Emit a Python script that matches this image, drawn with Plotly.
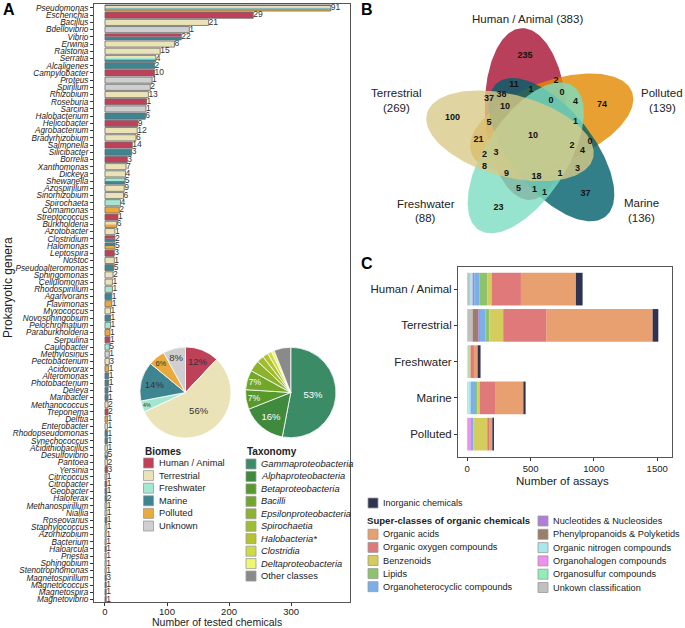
import numpy as np
import plotly.graph_objects as go

W, H = 685, 628
FONT = "Liberation Sans, Arial, sans-serif"
TXT = "#222222"

# ---------------- Panel A data ----------------
genera = ["Pseudomonas", "Escherichia", "Bacillus", "Bdellovibrio", "Vibrio", "Erwinia", "Ralstonia",
          "Serratia", "Alcaligenes", "Campylobacter", "Proteus", "Spirillum", "Rhizobium", "Roseburia",
          "Sarcina", "Halobacterium", "Helicobacter", "Agrobacterium", "Bradyrhizobium", "Salmonella",
          "Silicibacter", "Borrelia", "Xanthomonas", "Dickeya", "Shewanella", "Azospirillum",
          "Sinorhizobium", "Spirochaeta", "Comamonas", "Streptococcus", "Burkholderia", "Azotobacter",
          "Clostridium", "Halomonas", "Leptospira", "Nostoc", "Pseudoalteromonas", "Sphingomonas",
          "Cellulomonas", "Rhodospirillum", "Agarivorans", "Flavimonas", "Myxococcus", "Novosphingobium",
          "Pelochromatium", "Paraburkholderia", "Serpulina", "Caulobacter", "Methylosinus",
          "Pectobacterium", "Acidovorax", "Alteromonas", "Photobacterium", "Deleya", "Maribacter",
          "Methanococcus", "Treponema", "Delftia", "Enterobacter", "Rhodopseudomonas", "Synechococcus",
          "Acidithiobacillus", "Desulfovibrio", "Pantoea", "Yersinia", "Citricoccus", "Citrobacter",
          "Geobacter", "Haloferax", "Methanospirillum", "Niallia", "Roseovarius", "Staphylococcus",
          "Azorhizobium", "Bacterium", "Haloarcula", "Priestia", "Sphingobium", "Stenotrophomonas",
          "Magnetospirillum", "Magnetococcus", "Magnetospira", "Magnetovibrio"]
tested_chemicals = [364, 239, 167, 136, 123, 112, 89, 82, 80, 80, 76, 73, 70, 67, 66, 65, 53, 52, 50, 44,
                    43, 36, 34, 33, 32, 31, 30, 25, 23, 21, 19, 16, 16, 16, 15, 15, 14, 13, 12, 12, 11, 11,
                    9, 9, 9, 8, 8, 7, 7, 7, 6, 6, 6, 5, 5, 5, 5, 4, 4, 4, 4, 4, 4, 4, 4, 3, 3, 3, 3, 3, 3,
                    3, 3, 2, 2, 2, 2, 2, 2, 2, 2, 2, 2]
bar_numbers = [91, 29, 21, 1, 22, 8, 15, 4, 2, 10, 1, 2, 13, 1, 1, 6, 9, 12, 6, 14, 3, 3, 7, 4, 5, 9, 6,
               4, 2, 1, 6, 1, 2, 5, 3, 1, 5, 2, 1, 1, 1, 1, 1, 1, 1, 1, 1, 5, 1, 3, 1, 1, 1, 1, 1, 2, 2,
               1, 1, 1, 1, 1, 5, 2, 3, 1, 1, 1, 2, 1, 1, 1, 1, 1, 1, 1, 1, 1, 1, 3, 1, 1, 1]
# biome codes: H human/animal, T terrestrial, F freshwater, M marine, P polluted, U unknown
genus_biomes = ["HTFMP", "H", "T", "U", "HM", "T", "T", "TFM", "M", "H", "U", "U", "T", "H", "U", "M",
                "H", "T", "T", "H", "M", "H", "T", "T", "FM", "T", "T", "F", "P", "H", "TP", "T", "HM",
                "MP", "H", "T", "M", "T", "T", "F", "M", "P", "T", "M", "F", "P", "H", "F", "U", "T", "P",
                "M", "M", "M", "M", "T", "H", "P", "T", "M", "M", "T", "FM", "T", "H", "U", "H", "M", "M",
                "U", "T", "M", "T", "T", "U", "M", "T", "T", "T", "M", "M", "M", "M"]

biome_codes = ["H", "T", "F", "M", "P", "U"]
biome_names = ["Human / Animal", "Terrestrial", "Freshwater", "Marine", "Polluted", "Unknown"]
biome_colors = ["#BE4059", "#EAE3B8", "#A4E7D1", "#3F8591", "#E9A93C", "#CFCFCF"]
biome_pct = [12, 56, 4, 14, 6, 8]

taxa = ["Gammaproteobacteria", "Alphaproteobacteria", "Betaproteobacteria", "Bacilli",
        "Epsilonproteobacteria", "Spirochaetia", "Halobacteria*", "Clostridia", "Deltaproteobacteria",
        "Other classes"]
taxa_pct = [53, 16, 7, 7, 4, 2.5, 2, 1.5, 1, 6]
taxa_colors = ["#3B8C66", "#3F8A3D", "#58992B", "#72A82A", "#8DB32E", "#9EBD30", "#B5C330", "#CCDB47",
               "#EEF76B", "#8A8A8A"]
taxa_italic = [True] * 9 + [False]

# ---------------- Panel B data ----------------
venn_sets = ["Human / Animal", "Polluted", "Marine", "Freshwater", "Terrestrial"]
venn_totals = [383, 139, 136, 88, 269]
venn_colors = ["rgba(166,16,49,0.8)", "rgba(227,136,0,0.8)", "rgba(0,95,108,0.8)",
               "rgba(124,221,192,0.8)", "rgba(216,202,136,0.8)"]
venn_counts = [235, 11, 1, 2, 0, 37, 36, 10, 0, 4, 74, 100, 5, 1, 10, 21, 2, 0, 4, 2, 3, 8, 9, 18, 1, 3,
               5, 1, 1, 37, 23]

# ---------------- Panel C data ----------------
assay_biomes = ["Human / Animal", "Terrestrial", "Freshwater", "Marine", "Polluted"]
superclasses = ["Unkown classification", "Organosulfur compounds", "Organohalogen compounds",
                "Organic nitrogen compounds", "Phenylpropanoids & Polyketids", "Nucleotides & Nucleosides",
                "Organoheterocyclic compounds", "Lipids", "Benzenoids", "Organic oxygen compounds",
                "Organic acids", "Inorganic chemicals"]
assays_unknown = [21, 42, 0, 0, 0]
assays_organosulfur = [0, 0, 4, 10, 0]
assays_organohalogen = [0, 0, 0, 0, 29]
assays_org_nitrogen = [21, 0, 6, 16, 0]
assays_phenylpropanoids = [0, 45, 0, 0, 0]
assays_nucleotides = [13, 13, 0, 0, 0]
assays_organoheterocyclic = [40, 45, 0, 35, 18]
assays_lipids = [65, 29, 6, 18, 0]
assays_benzenoids = [32, 110, 10, 21, 111]
assays_org_oxygen = [232, 343, 27, 119, 14]
assays_org_acids = [434, 837, 29, 224, 26]
assays_inorganic = [53, 45, 23, 18, 13]
superclass_colors = ["#C0C0C0", "#93EDBB", "#EE90EE", "#A9E8EA", "#9A7D6B", "#B07ED9", "#7BAFE9",
                     "#8DC46B", "#D5CC5E", "#E07A7A", "#E8A070", "#2F3352"]


def PX(x):
    return x / W


def PY(y):
    return 1 - y / H


fig = go.Figure()

# ---------------- Panel A: bars ----------------
bar_w = 0.85
stripes = {c: {"x": [], "y": [], "w": []} for c in biome_codes}
for i, (v, bs) in enumerate(zip(tested_chemicals, genus_biomes)):
    k = len(bs)
    for j, c in enumerate(bs):
        stripes[c]["x"].append(v)
        stripes[c]["y"].append(i - bar_w / 2 + (j + 0.5) * bar_w / k)
        stripes[c]["w"].append(bar_w / k)
for c, col in zip(biome_codes, biome_colors):
    s = stripes[c]
    fig.add_trace(go.Bar(orientation="h", x=s["x"], y=s["y"], width=s["w"], marker=dict(color=col, line=dict(width=0)),
                         xaxis="x", yaxis="y", showlegend=False, hoverinfo="skip"))
idx = list(range(len(genera)))
fig.add_trace(go.Bar(orientation="h", x=tested_chemicals, y=idx, width=bar_w,
                     marker=dict(color="rgba(0,0,0,0)", line=dict(color="#6a6a6a", width=0.8)),
                     xaxis="x", yaxis="y", showlegend=False, hoverinfo="skip"))
fig.add_trace(go.Scatter(x=tested_chemicals, y=idx, mode="text", text=[str(n) for n in bar_numbers],
                         textposition="middle right", textfont=dict(size=8.5, color="#333", family=FONT),
                         xaxis="x", yaxis="y", showlegend=False, hoverinfo="skip", cliponaxis=False))

# ---------------- Pies ----------------
fig.add_trace(go.Pie(values=biome_pct, labels=biome_names, sort=False, direction="clockwise",
                     marker=dict(colors=biome_colors, line=dict(color="white", width=0.8)),
                     text=[f"{p}%" for p in biome_pct], textinfo="text", textposition="inside",
                     insidetextorientation="horizontal",
                     textfont=dict(size=9.5, color="#333", family=FONT),
                     domain=dict(x=[PX(140), PX(231)], y=[PY(438), PY(347)]), showlegend=False,
                     hoverinfo="skip"))
fig.add_trace(go.Pie(values=taxa_pct, labels=taxa, sort=False, direction="clockwise",
                     marker=dict(colors=taxa_colors, line=dict(color="white", width=0.8)),
                     text=[f"{p:g}%" if p >= 7 else "" for p in taxa_pct], textinfo="text",
                     textposition="inside", insidetextorientation="horizontal",
                     textfont=dict(size=9.5, color="white", family=FONT),
                     domain=dict(x=[PX(245.5), PX(336)], y=[PY(438), PY(347)]), showlegend=False,
                     hoverinfo="skip"))

# ---------------- Panel B: Venn ----------------
Cx, Cy = 533, 136
ea, eb, ed = 86, 41, 23
phi0, tilt0 = 107.6, 93
tt = np.linspace(0, 2 * np.pi, 181)
for k, col in enumerate(venn_colors):
    ang = np.radians(phi0 - 72 * k)
    th = np.radians(tilt0 - 72 * k)
    cx = Cx + ed * np.cos(ang)
    cy = Cy - ed * np.sin(ang)
    xs = cx + ea * np.cos(tt) * np.cos(th) - eb * np.sin(tt) * np.sin(th)
    ys = cy - (ea * np.cos(tt) * np.sin(th) + eb * np.sin(tt) * np.cos(th))
    fig.add_trace(go.Scatter(x=xs, y=ys, mode="lines", fill="toself", fillcolor=col, line=dict(width=0),
                             xaxis="x3", yaxis="y3", showlegend=False, hoverinfo="skip"))

venn_label_x = [525, 514, 531, 556, 562, 489, 501.5, 505, 551, 575.5, 602, 452.5, 489, 575.5, 533, 478.5,
                572, 590, 582.5, 484.5, 496, 484.5, 506.5, 536.5, 560, 577.5, 518.5, 534.5, 544.5, 585.5,
                498.5]
venn_label_y = [56, 84.5, 89.5, 81, 92.5, 99, 94.5, 106.5, 100.5, 101.5, 105, 117.5, 123, 121.5, 136, 139.5,
                145.5, 141.5, 150.5, 154.5, 152.5, 166.5, 173.5, 176.5, 173.5, 168.5, 189, 190, 192.5, 194,
                207.5]
fig.add_trace(go.Scatter(x=venn_label_x, y=venn_label_y, mode="text", text=[str(c) for c in venn_counts],
                         textfont=dict(size=9, color="#111", family=FONT, weight="bold"),
                         textposition="middle center", xaxis="x3", yaxis="y3", showlegend=False,
                         hoverinfo="skip"))

# ---------------- Panel C: stacked bars ----------------
assay_series = [assays_unknown, assays_organosulfur, assays_organohalogen, assays_org_nitrogen,
                assays_phenylpropanoids, assays_nucleotides, assays_organoheterocyclic, assays_lipids,
                assays_benzenoids, assays_org_oxygen, assays_org_acids, assays_inorganic]
cum = np.zeros(len(assay_biomes))
for name, vals, col in zip(superclasses, assay_series, superclass_colors):
    fig.add_trace(go.Bar(orientation="h", y=assay_biomes, x=vals, base=cum.copy(), width=0.9,
                         marker=dict(color=col, line=dict(width=0)), name=name, xaxis="x2", yaxis="y2",
                         showlegend=False, hoverinfo="skip"))
    cum = cum + np.array(vals)

# ---------------- Layout ----------------
axis_line = dict(showline=True, linecolor="#555", linewidth=1, mirror=True, ticks="outside", ticklen=3,
                 tickcolor="#333", tickwidth=1, showgrid=False, zeroline=False)
fig.update_layout(
    width=W, height=H, margin=dict(l=0, r=0, t=0, b=0), paper_bgcolor="white", plot_bgcolor="rgba(0,0,0,0)",
    barmode="overlay", font=dict(family=FONT, color=TXT), showlegend=False,
    xaxis=dict(domain=[PX(94), PX(350)], range=[-17.7, 395], anchor="y", tickvals=[0, 100, 200, 300],
               tickfont=dict(size=9.5), automargin=False, ticklabelstandoff=-2, **axis_line),
    yaxis=dict(domain=[PY(602), PY(4)], range=[82.35, -0.55], anchor="x", tickmode="array", tickvals=idx,
               ticktext=[f"<i>{g}</i>" for g in genera], tickfont=dict(size=8.2), automargin=False,
               **axis_line),
    xaxis2=dict(domain=[PX(458), PX(672)], range=[-73, 1617], anchor="y2", tickvals=[0, 500, 1000, 1500],
                tickfont=dict(size=9.5), automargin=False, **axis_line),
    yaxis2=dict(domain=[PY(457), PY(267)], range=[4.63, -0.61], anchor="x2", type="category",
                categoryorder="array", categoryarray=assay_biomes, tickfont=dict(size=11.5),
                automargin=False, **axis_line),
    xaxis3=dict(domain=[0, 1], range=[0, W], visible=False, anchor="y3", fixedrange=True),
    yaxis3=dict(domain=[0, 1], range=[H, 0], visible=False, anchor="x3", fixedrange=True),
)

ann = []
shapes = []


def text(x, y, s, size, xanchor="left", bold=False, angle=0, color=TXT):
    ann.append(dict(x=PX(x), y=PY(y), xref="paper", yref="paper", text=s, showarrow=False,
                    xanchor=xanchor, yanchor="middle", textangle=angle,
                    font=dict(size=size, color=color, family=FONT, weight="bold" if bold else "normal")))


def swatch(x, y, color, label, italic=False, size=9.3):
    shapes.append(dict(type="rect", xref="paper", yref="paper", x0=PX(x), x1=PX(x + 10), y0=PY(y + 5),
                       y1=PY(y - 5), fillcolor=color, line=dict(color="#9a9a9a", width=0.8)))
    text(x + 13, y, f"<i>{label}</i>" if italic else label, size)


# panel letters
text(9, 9, "A", 16, xanchor="center", bold=True, color="black")
text(367, 9, "B", 16, xanchor="center", bold=True, color="black")
text(367, 263, "C", 16, xanchor="center", bold=True, color="black")

# axis titles A
text(8, 288, "Prokaryotic genera", 12, xanchor="center", angle=-90)
text(217, 622, "Number of tested chemicals", 10.5, xanchor="center")
# axis title C
text(562, 481, "Number of assays", 11.5, xanchor="center")

# Biomes legend
text(143, 451, "Biomes", 10, bold=True)
for j, (nm, col) in enumerate(zip(biome_names, biome_colors)):
    swatch(143.5, 463 + j * 12.6, col, nm)
# Taxonomy legend
text(245, 451, "Taxonomy", 10, bold=True)
for j, (nm, col, it) in enumerate(zip(taxa, taxa_colors, taxa_italic)):
    swatch(246, 464 + j * 12.45, col, nm, italic=it)

# Venn set labels
text(527, 19.5, f"{venn_sets[0]} ({venn_totals[0]})", 11.5, xanchor="center")
text(662, 93, venn_sets[1], 11.5, xanchor="center")
text(662, 107.5, f"({venn_totals[1]})", 11.5, xanchor="center")
text(641, 203, venn_sets[2], 11.5, xanchor="center")
text(641, 217.5, f"({venn_totals[2]})", 11.5, xanchor="center")
text(426, 203.5, venn_sets[3], 11.5, xanchor="center")
text(426, 218.5, f"({venn_totals[3]})", 11.5, xanchor="center")
text(396, 93, venn_sets[4], 11.5, xanchor="center")
text(396, 107.5, f"({venn_totals[4]})", 11.5, xanchor="center")

# Panel C legend
swatch(368, 503, superclass_colors[11], superclasses[11], size=9)
text(365, 520, "Super-classes of organic chemicals", 9.6, bold=True)
left_order = [10, 9, 8, 7, 6]
for j, k in enumerate(left_order):
    swatch(368, 534.3 + j * 13.1, superclass_colors[k], superclasses[k], size=9.2)
right_order = [5, 4, 3, 2, 1, 0]
for j, k in enumerate(right_order):
    swatch(538, 521 + j * 13.3, superclass_colors[k], superclasses[k], size=9.2)

fig.update_layout(annotations=ann, shapes=shapes)
fig.write_html("out.html", config={"displayModeBar": False, "staticPlot": True},
               post_script="document.body.style.margin='0';document.body.style.padding='0';"
                           "document.body.style.overflow='hidden';")
